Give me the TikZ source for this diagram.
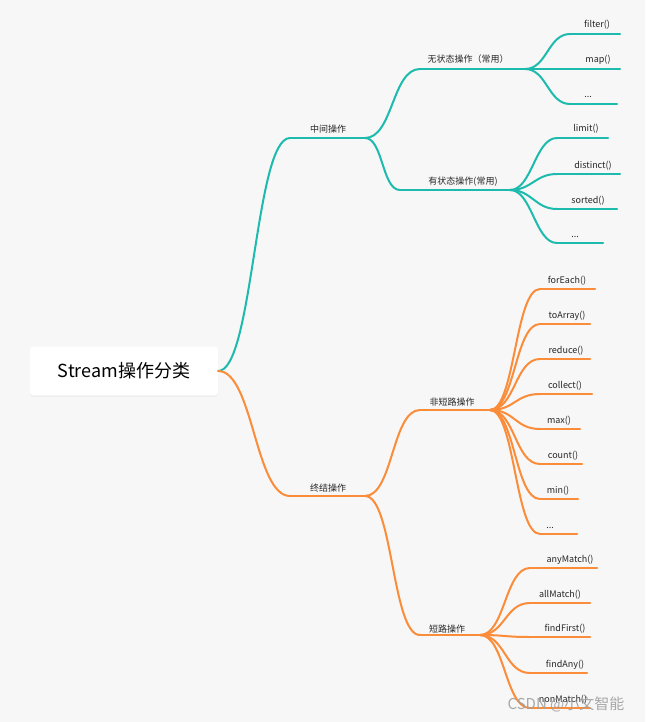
\documentclass[tikz,border=0pt]{standalone}
\usepackage{fontspec}
\setmainfont{Noto Sans CJK SC}
\usetikzlibrary{shadows}
\definecolor{teal1}{HTML}{1DBAAE}
\definecolor{orng}{HTML}{FA8C3A}
\definecolor{bg}{HTML}{F7F7F7}
\tikzset{
  br/.style={line width=2pt, line cap=round},
  lab/.style={font=\fontsize{9}{10}\selectfont, anchor=base, text=black!85},
}
\newcommand{\mydots}{...}
% #1 colour, #2 from, #3 to, #4 half horizontal distance
\newcommand{\curv}[4]{\draw[br,#1] (#2) .. controls +(#4,0) and +(-#4,0) .. (#3);}
\begin{document}
\begin{tikzpicture}[x=1pt,y=-1pt]
\fill[bg] (0,0) rectangle (645,722);
\node[fill=white, rounded corners=3pt, drop shadow={opacity=0.12,shadow xshift=0pt,shadow yshift=-1pt},
  minimum width=188pt, minimum height=49pt, font=\fontsize{18}{20}\selectfont] (root) at (124,371) {Stream操作分类};

% ---- 中间操作
\coordinate (m0) at (290,138); \coordinate (m1) at (365,138);
\curv{teal1}{root.east}{m0}{35}
\draw[br,teal1] (m0) -- (m1);
\node[lab] (mL) at (328,133) {中间操作};

\coordinate (w0) at (420,69); \coordinate (w1) at (525,69);
\curv{teal1}{m1}{w0}{28}
\draw[br,teal1] (w0) -- (w1);
\node[lab] (wL) at (468,63) {无状态操作（常用）};
\foreach \y/\e/\t/\lx in {34/620/filter()/597, 69/620/map()/598, 104/617/\mydots/588}{
  \coordinate (a) at (570,\y); \coordinate (b) at (\e,\y);
  \curv{teal1}{w1}{a}{22}
  \draw[br,teal1] (a) -- (b);
  \node[lab] at (\lx,\y-6) {\t};
}

\coordinate (s0) at (400,190); \coordinate (s1) at (510,190);
\curv{teal1}{m1}{s0}{18}
\draw[br,teal1] (s0) -- (s1);
\node[lab] (sL) at (463,185) {有状态操作(常用)};
\foreach \y/\e/\t/\lx in {138/608/limit()/586, 174/620/distinct()/593, 209/617/sorted()/588, 243/603/\mydots/575}{
  \coordinate (a) at (557,\y); \coordinate (b) at (\e,\y);
  \curv{teal1}{s1}{a}{22}
  \draw[br,teal1] (a) -- (b);
  \node[lab] at (\lx,\y-6) {\t};
}

% ---- 终结操作
\coordinate (t0) at (290,496); \coordinate (t1) at (365,496);
\curv{orng}{root.east}{t0}{35}
\draw[br,orng] (t0) -- (t1);
\node[lab] (tL) at (328,491) {终结操作};

\coordinate (n0) at (420,410); \coordinate (n1) at (490,410);
\curv{orng}{t1}{n0}{28}
\draw[br,orng] (n0) -- (n1);
\node[lab] (nL) at (452,405) {非短路操作};
\foreach \y/\e/\t/\lx in {289/595/forEach()/567, 324/590/toArray()/567, 359/590/reduce()/566, 394/592/collect()/565, 429/580/max()/559, 464/582/count()/563, 499/578/min()/558, 534/577/\mydots/550}{
  \coordinate (a) at (540,\y); \coordinate (b) at (\e,\y);
  \curv{orng}{n1}{a}{25}
  \draw[br,orng] (a) -- (b);
  \node[lab] at (\lx,\y-6) {\t};
}

\coordinate (k0) at (420,635); \coordinate (k1) at (480,635);
\curv{orng}{t1}{k0}{28}
\draw[br,orng] (k0) -- (k1);
\node[lab] (kL) at (447,632) {短路操作};
\foreach \y/\e/\t/\lx in {568/597/anyMatch()/570, 603/590/allMatch()/560, 637/590/findFirst()/565, 673/587/findAny()/565, 708/590/nonMatch()/563}{
  \coordinate (a) at (530,\y); \coordinate (b) at (\e,\y);
  \curv{orng}{k1}{a}{25}
  \draw[br,orng] (a) -- (b);
  \node[lab] at (\lx,\y-6) {\t};
}

\node[font=\fontsize{15}{16}\selectfont, text=gray!75, opacity=0.9] (wm) at (566,704) {CSDN @小文智能};
\end{tikzpicture}
\end{document}
